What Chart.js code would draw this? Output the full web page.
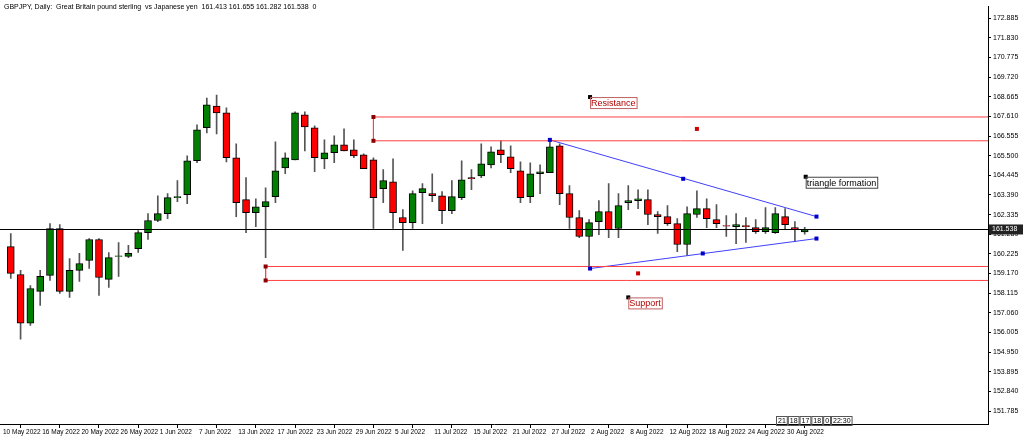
<!DOCTYPE html>
<html>
<head>
<meta charset="utf-8">
<script src="https://cdn.jsdelivr.net/npm/chart.js@4.4.0/dist/chart.umd.min.js"></script>
<style>
html,body{margin:0;padding:0;background:#fff;}
#wrap{width:1024px;height:442px;}
</style>
</head>
<body>
<div id="wrap"><canvas id="c"></canvas></div>
<script>
const opens  = [160.62,159.12,156.50,158.21,159.07,161.59,158.21,159.34,159.87,161.00,158.86,160.09,160.09,160.51,161.37,162.02,162.39,163.25,163.41,165.23,167.00,168.17,167.80,165.39,163.14,162.44,162.76,163.30,164.85,165.28,167.69,167.00,165.33,165.66,166.08,165.82,165.55,165.28,163.73,164.10,162.18,161.91,163.51,163.46,163.35,162.55,163.25,164.32,164.42,165.01,165.82,165.44,164.69,163.30,164.53,164.59,166.03,163.46,162.18,161.16,161.96,162.50,161.59,162.98,163.09,163.14,162.34,162.23,161.85,160.73,162.34,162.66,162.07,161.75,161.69,161.75,161.64,161.42,161.37,162.23,161.64,161.413];
const highs  = [161.32,159.34,158.53,159.34,161.85,161.80,159.98,160.25,161.05,161.05,160.30,160.84,160.68,161.48,162.39,163.35,163.46,164.16,165.49,167.16,168.60,168.76,168.07,166.14,164.32,163.19,163.78,166.24,165.66,167.85,167.85,167.10,166.35,166.57,166.94,166.35,165.60,165.39,164.75,165.33,162.60,163.62,164.00,164.53,163.57,164.16,165.23,164.75,166.14,165.98,166.30,166.03,165.17,165.12,165.01,166.41,166.14,163.89,162.55,162.07,163.09,164.00,163.46,163.89,163.67,163.67,162.50,162.82,162.12,162.76,163.62,163.19,162.87,162.28,162.39,162.18,162.07,162.71,162.71,162.66,161.96,161.655];
const lows   = [158.91,155.64,156.39,157.46,158.80,158.10,157.89,158.75,159.44,158.00,158.43,159.02,160.03,160.30,161.00,161.96,162.12,163.03,162.92,165.12,166.73,166.67,165.17,162.23,161.37,161.69,160.03,162.98,164.53,165.28,165.76,164.64,164.80,165.12,165.76,165.39,164.80,161.59,162.98,161.59,160.41,161.59,161.85,163.03,161.85,162.39,163.14,163.67,164.32,164.85,165.12,164.59,162.98,162.98,163.46,164.59,162.87,161.59,161.10,159.44,161.26,161.10,161.10,162.60,162.66,161.80,161.32,161.75,160.35,160.14,162.18,161.64,161.64,161.16,160.78,160.84,161.32,161.32,161.32,161.53,160.89,161.282];
const closes = [159.18,156.50,158.37,159.02,161.59,158.21,159.34,159.71,161.00,158.96,160.03,160.12,160.25,161.37,162.02,162.39,163.25,163.30,165.23,166.89,168.23,167.80,165.39,162.98,162.44,162.76,163.03,164.69,165.39,167.80,167.05,165.39,165.66,166.08,165.76,165.49,164.80,163.25,164.16,162.44,161.91,163.46,163.73,163.35,162.55,163.30,164.21,164.26,165.07,165.71,165.55,164.80,163.25,164.53,164.64,165.98,163.46,162.18,161.16,161.91,162.50,161.53,162.82,163.09,163.19,162.34,162.23,161.85,160.73,162.39,162.66,162.12,161.85,161.72,161.80,161.69,161.42,161.64,162.39,161.80,161.53,161.538];

const yTicks = [172.885,171.830,170.775,169.720,168.665,167.610,166.555,165.500,164.445,163.390,162.335,161.280,160.225,159.170,158.115,157.060,156.005,154.950,153.895,152.840,151.785];
const dateTickIdx = [-1,3,7,11,15,19,23,27,31,35,39,43,47,51,55,59,63,67,71,75,79];
const dateLabels = ['10 May 2022','16 May 2022','20 May 2022','26 May 2022','1 Jun 2022','7 Jun 2022','13 Jun 2022','17 Jun 2022','23 Jun 2022','29 Jun 2022','5 Jul 2022','11 Jul 2022','15 Jul 2022','21 Jul 2022','27 Jul 2022','2 Aug 2022','8 Aug 2022','12 Aug 2022','18 Aug 2022','24 Aug 2022','30 Aug 2022'];

// annotation objects (x in bar index, y in price)
const resistanceStart = 37.0, resistanceLevels = [167.58, 166.30];
const supportStart = 26.0, supportLevels = [159.55, 158.80];
const upperTrend = [{x:55.0,y:166.35},{x:68.6,y:164.26},{x:82.2,y:162.23}];
const lowerTrend = [{x:59.1,y:159.44},{x:70.6,y:160.25},{x:82.2,y:161.05}];
const textNotes = [
  {text:'Resistance', x:59.1, y:168.65, color:'#b00000'},
  {text:'Support', x:63.0, y:157.89, color:'#b00000'},
  {text:'triangle formation', x:81.1, y:164.37, color:'#000'}
];
const redDots = [{x:70.0,y:166.94},{x:64.0,y:159.18}];
const lastPrice = 161.538;
const xMax = 99.7;

const idx = opens.map((_, i) => i);
const up = idx.map(i => closes[i] >= opens[i]);
const bodies = idx.map(i => {
  let a = Math.min(opens[i], closes[i]), b = Math.max(opens[i], closes[i]);
  if (b - a < 0.03) { a -= 0.015; b += 0.015; }
  return {x: i, y: [a, b]};
});
const wicks = idx.map(i => ({x: i, y: [lows[i], highs[i]]}));

function hLine(x0, y) { return [{x: x0, y: y}, {x: xMax, y: y}]; }
const lineDs = (data, color, extra) => Object.assign({
  type: 'line', data: data, borderColor: color, borderWidth: 1,
  pointRadius: 0, fill: false, tension: 0
}, extra || {});

const FONT = '"Liberation Sans"';

const overlay = {
  id: 'overlay',
  afterDatasetsDraw(chart) {
    const {ctx, scales: {x, y}, chartArea: a} = chart;
    ctx.save();
    // current price line
    const py = y.getPixelForValue(lastPrice);
    ctx.strokeStyle = '#000'; ctx.lineWidth = 1;
    ctx.beginPath(); ctx.moveTo(a.left, Math.round(py) + 0.5); ctx.lineTo(a.right, Math.round(py) + 0.5); ctx.stroke();
    // dots on trend lines
    ctx.fillStyle = '#0000cc';
    upperTrend.concat(lowerTrend).forEach(p => ctx.fillRect(x.getPixelForValue(p.x) - 2, y.getPixelForValue(p.y) - 2, 4, 4));
    ctx.fillStyle = '#8b0000';
    resistanceLevels.forEach(v => ctx.fillRect(x.getPixelForValue(resistanceStart) - 2, y.getPixelForValue(v) - 2, 4, 4));
    supportLevels.forEach(v => ctx.fillRect(x.getPixelForValue(supportStart) - 2, y.getPixelForValue(v) - 2, 4, 4));
    ctx.fillStyle = '#cc0000';
    redDots.forEach(p => ctx.fillRect(x.getPixelForValue(p.x) - 2, y.getPixelForValue(p.y) - 2, 4, 4));
    // text notes
    ctx.font = '9px ' + FONT; ctx.textBaseline = 'top';
    textNotes.forEach(n => {
      const tx = x.getPixelForValue(n.x), ty = y.getPixelForValue(n.y);
      const w = ctx.measureText(n.text).width;
      ctx.fillStyle = '#000'; ctx.fillRect(tx - 2, ty - 2, 4, 4);
      ctx.strokeStyle = n.color === '#000' ? '#444' : '#c06060';
      ctx.strokeRect(tx + 0.5, ty + 0.5, w + 2, 11);
      ctx.fillStyle = n.color; ctx.fillText(n.text, tx + 1, ty + 2);
    });
    // title
    ctx.fillStyle = '#000'; ctx.font = '7px ' + FONT;
    ctx.fillText('GBPJPY, Daily:  Great Britain pound sterling  vs Japanese yen  161.413 161.655 161.282 161.538  0', 4, 4);
    // price tag
    ctx.fillStyle = '#222';
    ctx.fillRect(a.right + 1, py - 5, 34, 10);
    ctx.fillStyle = '#fff'; ctx.font = '7px ' + FONT; ctx.textBaseline = 'middle';
    ctx.fillText(lastPrice.toFixed(3), a.right + 4, py);
    // timer boxes
    ctx.fillStyle = '#000'; ctx.strokeStyle = '#555';
    let bx = 776;
    ['21','18','17','18','0','22:30'].forEach(s => {
      const w = ctx.measureText(s).width + 3;
      ctx.strokeRect(bx + 0.5, 416.5, w, 9);
      ctx.fillText(s, bx + 2, 421);
      bx += w + 1;
    });
    ctx.restore();
  }
};

new Chart(document.getElementById('c'), {
  type: 'bar',
  data: {
    datasets: [
      lineDs(hLine(resistanceStart, resistanceLevels[0]), '#ff4040'),
      lineDs(hLine(resistanceStart, resistanceLevels[1]), '#ff4040'),
      lineDs([{x: resistanceStart, y: resistanceLevels[0]}, {x: resistanceStart, y: resistanceLevels[1]}], '#ff4040'),
      lineDs(hLine(supportStart, supportLevels[0]), '#ff4040'),
      lineDs(hLine(supportStart, supportLevels[1]), '#ff4040'),
      lineDs([{x: supportStart, y: supportLevels[0]}, {x: supportStart, y: supportLevels[1]}], '#ff4040'),
      lineDs([upperTrend[0], upperTrend[2]], '#4040ff'),
      lineDs([lowerTrend[0], lowerTrend[2]], '#4040ff'),
      {data: wicks, backgroundColor: '#555', barThickness: 1, grouped: false, order: 2},
      {data: bodies, backgroundColor: up.map(u => u ? '#008000' : '#ff0000'),
       borderColor: '#000', borderWidth: 1, borderSkipped: false, barThickness: 7, grouped: false, order: 1}
    ]
  },
  options: {
    responsive: true, maintainAspectRatio: false, animation: false,
    layout: {padding: 0},
    plugins: {legend: {display: false}, tooltip: {enabled: false}},
    scales: {
      x: {
        type: 'linear', min: -1.1, max: xMax, offset: false,
        border: {color: '#000'},
        grid: {drawOnChartArea: false, tickLength: 4, color: '#000'},
        afterBuildTicks: s => { s.ticks = dateTickIdx.map(v => ({value: v})); },
        ticks: {
          autoSkip: false, maxRotation: 0, align: 'start', padding: 0, labelOffset: 2,
          font: {size: 6.5, family: 'Liberation Sans'}, color: '#000',
          callback: v => dateLabels[dateTickIdx.indexOf(v)] || ''
        },
        afterFit: s => { s.height = 18; }
      },
      y: {
        position: 'right', min: 151.09, max: 173.53,
        border: {color: '#000'},
        grid: {drawOnChartArea: false, tickLength: 3, color: '#000'},
        afterBuildTicks: s => { s.ticks = yTicks.map(v => ({value: v})); },
        ticks: {font: {size: 7, family: 'Liberation Sans'}, color: '#000', padding: 2,
          callback: v => v.toFixed(3)},
        afterFit: s => { s.width = 36; }
      }
    }
  },
  plugins: [overlay]
});
</script>
</body>
</html>
